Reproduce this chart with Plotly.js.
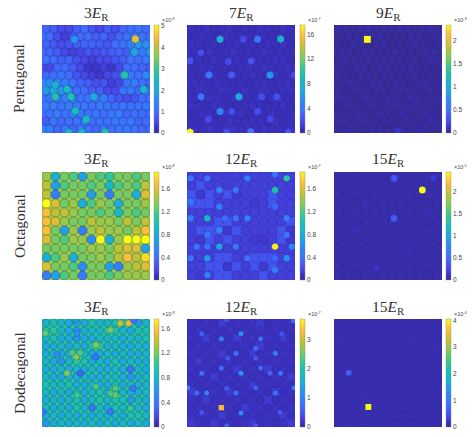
<!DOCTYPE html>
<html><head><meta charset="utf-8">
<script src="https://cdn.plot.ly/plotly-3.0.1.min.js"></script>
<style>html,body{margin:0;padding:0;background:#fff}#c{width:474px;height:437px}</style>
</head><body><div id="c"></div>
<script>
var rowLabels=['Pentagonal','Octagonal','Dodecagonal'];
var titles=['3<i>E</i><sub>R</sub>','7<i>E</i><sub>R</sub>','9<i>E</i><sub>R</sub>','3<i>E</i><sub>R</sub>','12<i>E</i><sub>R</sub>','15<i>E</i><sub>R</sub>','3<i>E</i><sub>R</sub>','12<i>E</i><sub>R</sub>','15<i>E</i><sub>R</sub>'];
var exponents=['-8','-7','-3','-8','-7','-5','-8','-7','-4'];
var cmaxes=[5.05,17.5,2.35,1.9,1.9,2.45,1.75,3.7,4.05];
var ticks=[[0,1,2,3,4,5],[0,4,8,12,16],[0,0.5,1,1.5,2],[0,0.4,0.8,1.2,1.6],[0,0.4,0.8,1.2,1.6],[0,0.5,1,1.5,2],[0,0.4,0.8,1.2,1.6],[0,1,2,3],[0,1,2,3,4]];
var gapValues=[null,null,null,1.4,null,null,1.0,null,null];

var grid1=[[0.9,0.8,0.5,0.5,0.8,1.0,0.7,0.5,0.8,0.6,0.9,1.0,1.1,1.0],[1.0,0.6,0.4,0.7,0.9,1.0,0.8,0.9,0.6,0.9,1.1,1.2,1.1,1.0],[0.9,0.7,0.6,0.7,0.8,0.9,0.9,0.8,0.7,1.0,1.1,1.3,1.7,1.6],[0.9,0.8,0.5,0.4,0.5,0.7,0.6,0.7,0.8,0.9,0.8,1.9,1.2,1.7],[1.1,1.0,0.8,0.9,0.6,0.5,0.4,0.5,0.5,0.7,0.8,1.1,1.0,1.2],[0.5,0.9,1.0,0.8,0.5,0.3,0.3,0.4,0.3,0.5,1.0,1.0,0.9,0.8],[0.9,1.0,1.1,1.0,0.7,0.5,0.4,0.3,0.5,0.6,1.0,1.2,1.0,1.5],[1.6,1.4,1.3,1.1,0.9,0.8,0.6,0.7,0.4,0.5,1.1,1.3,1.0,0.9],[1.8,2.1,1.7,1.2,1.0,1.0,0.8,0.8,0.5,0.5,1.1,1.2,0.9,1.2],[1.1,1.2,1.3,1.5,1.0,1.1,1.1,1.3,0.9,0.7,0.6,0.7,1.0,1.1],[1.3,1.3,1.1,1.3,1.2,1.2,1.0,1.2,1.1,1.0,1.1,1.0,1.1,1.2],[1.0,1.3,1.1,1.3,1.2,1.1,1.2,1.0,1.2,1.3,0.9,1.1,1.0,1.0],[0.8,1.2,0.9,1.0,1.1,1.2,1.0,1.0,1.1,1.2,1.1,1.2,0.9,1.0],[1.3,0.9,1.2,0.9,1.2,1.0,0.9,1.2,1.0,1.1,1.2,1.0,0.9,1.0]];
var hotX1=[86.4,76.5,29.9,12.3,23.1,12.3,26.9,47.8,94.1,30.9,41,58.6,37,24.7];
var hotY1=[87,53.7,86.7,44.4,40.4,33.6,33.6,33.6,40.4,20.4,12.7,0.6,0.6,0.6];
var hotV1=[4.3,2.7,1.7,2.2,2.4,2.7,2.6,2.0,2.4,2.5,2.4,2.7,2.2,2.2];

var grid2=[[0.7,0.6,0.8,0.6,0.7,0.8,0.6,0.7,0.6,0.8,0.7,0.6,0.8,0.7],[0.6,0.8,0.7,0.6,0.8,0.6,0.7,0.6,0.8,0.7,0.6,0.7,0.6,0.8],[0.8,0.7,0.6,0.7,0.6,0.7,0.8,0.6,0.7,0.6,0.8,0.7,0.8,0.6],[0.7,0.6,0.8,0.6,0.7,0.8,0.6,0.7,0.6,0.8,0.6,0.7,0.6,0.7],[0.8,0.7,0.6,0.8,0.6,0.7,0.8,0.6,0.7,0.7,0.6,0.8,0.7,0.6],[0.6,0.8,0.7,0.6,0.7,0.6,0.7,0.8,0.6,0.8,0.7,0.6,0.8,0.7],[0.7,0.6,0.8,0.7,0.6,0.8,0.6,0.7,0.8,0.6,0.7,0.8,0.6,0.8],[0.8,0.7,0.6,0.8,0.7,0.6,0.7,0.6,0.7,0.8,0.6,0.7,0.8,0.6],[0.6,0.8,0.7,0.6,0.8,0.7,0.6,0.8,0.6,0.7,0.8,0.6,0.7,0.8],[0.7,0.6,0.8,0.7,0.6,0.7,0.8,0.6,0.7,0.6,0.7,0.8,0.6,0.7],[0.8,0.7,0.6,0.8,0.7,0.6,0.6,0.7,0.8,0.7,0.6,0.7,0.8,0.6],[0.6,0.8,0.7,0.6,0.8,0.7,0.8,0.6,0.7,0.6,0.8,0.6,0.7,0.8],[0.7,0.6,0.8,0.7,0.6,0.8,0.6,0.7,0.8,0.7,0.6,0.8,0.6,0.7],[0.8,0.7,0.9,0.7,0.8,0.9,0.7,0.8,0.7,0.9,0.7,0.8,0.7,0.9]];
var hotX2=[30.6,86.7,65.4,76.9,20.4,13,48.1,30.6,59,2.8,41.4,69.1,83,65.4,41.4,2.8,12.7,59.3,38.3,52.2,19.8,76.9,93.8,36.7,99.4];
var hotY2=[86.7,87,86.7,53.7,53.7,33.6,33.6,19.8,1.2,0.6,53.7,33.6,33.6,19.8,19.8,66.7,74.4,66.7,66,86.7,12.7,12.7,0.6,0.6,53.7];
var hotV2=[7.5,7.8,4.0,6.0,4.0,3.8,7.0,5.0,3.5,17.5,2.5,2.0,2.0,2.0,2.0,2.2,2.0,2.2,1.8,1.8,1.8,1.8,2.2,2.0,1.8];

var grid3=[[0.05,0.04,0.03,0.04,0.05,0.03,0.04,0.03,0.05,0.04,0.03,0.04,0.05,0.03],[0.03,0.05,0.04,0.03,0.04,0.05,0.03,0.04,0.03,0.05,0.04,0.03,0.04,0.05],[0.04,0.03,0.05,0.04,0.03,0.04,0.05,0.03,0.04,0.03,0.05,0.04,0.03,0.04],[0.05,0.04,0.03,0.05,0.04,0.03,0.04,0.05,0.03,0.04,0.03,0.05,0.04,0.03],[0.03,0.05,0.04,0.03,0.05,0.04,0.03,0.04,0.05,0.03,0.04,0.03,0.05,0.04],[0.04,0.03,0.05,0.04,0.03,0.05,0.04,0.03,0.04,0.05,0.03,0.04,0.03,0.05],[0.05,0.04,0.03,0.05,0.04,0.03,0.05,0.04,0.03,0.04,0.05,0.03,0.04,0.03],[0.03,0.05,0.04,0.03,0.05,0.04,0.03,0.05,0.04,0.03,0.04,0.05,0.03,0.04],[0.04,0.03,0.05,0.04,0.03,0.05,0.04,0.03,0.05,0.04,0.03,0.04,0.05,0.03],[0.05,0.04,0.03,0.05,0.04,0.03,0.05,0.04,0.03,0.05,0.04,0.03,0.04,0.05],[0.03,0.05,0.04,0.03,0.05,0.04,0.03,0.05,0.04,0.03,0.05,0.04,0.03,0.04],[0.04,0.03,0.05,0.04,0.03,0.05,0.04,0.03,0.05,0.04,0.03,0.05,0.04,0.03],[0.05,0.04,0.03,0.05,0.04,0.03,0.05,0.04,0.03,0.05,0.04,0.03,0.05,0.04],[0.03,0.05,0.04,0.03,0.05,0.04,0.03,0.05,0.04,0.03,0.05,0.04,0.03,0.05]];
var hotX3=[30.9,59];
var hotY3=[86.7,1.9];
var hotV3=[2.35,0.12];

var grid4=[[1.4,0.8,1.3,1.2,0.7,1.3,1.2,1.1,1.3,1.3,1.2,1.3],[1.5,0.7,1.2,1.3,1.3,1.2,1.3,0.9,1.2,1.3,1.2,1.5],[1.5,0.5,1.3,1.3,1.3,0.7,1.3,0.5,1.3,1.3,0.8,1.6],[1.9,1.6,1.3,1.4,0.8,1.2,1.4,1.3,0.8,1.3,1.3,1.4],[1.7,1.5,1.5,1.4,1.3,1.3,1.2,1.3,0.9,1.3,1.2,1.3],[1.7,1.6,1.4,1.3,1.3,1.5,1.4,1.4,1.3,1.5,1.3,1.5],[1.7,1.3,0.7,1.4,0.5,1.4,1.5,1.4,1.4,1.3,1.5,1.7],[1.6,1.3,1.2,1.4,1.4,0.6,1.9,0.8,1.4,1.9,1.9,1.9],[1.3,1.3,1.3,1.3,1.3,1.4,1.4,1.3,1.5,1.6,1.6,0.7],[0.8,1.2,1.4,0.8,1.3,1.3,1.4,1.3,1.5,1.7,1.5,1.8],[1.6,1.3,1.3,1.2,0.6,1.3,1.3,0.7,0.5,1.4,1.5,1.6],[0.5,0.7,1.2,1.3,0.5,1.3,1.3,1.2,1.3,1.4,1.4,1.4]];
var hotX4=[];var hotY4=[];var hotV4=[];

var grid5=[[0.15,0.15,0.15,0.15,0.15,0.15,0.15,0.15,0.15,0.15,0.15,0.15],[0.15,0.25,0.15,0.15,0.15,0.15,0.15,0.15,0.15,0.15,0.15,0.15],[0.25,0.12,0.25,0.15,0.25,0.12,0.15,0.15,0.15,0.25,0.15,0.15],[0.25,0.25,0.25,0.15,0.15,0.15,0.15,0.12,0.15,0.25,0.15,0.15],[0.15,0.15,0.15,0.15,0.15,0.15,0.15,0.15,0.15,0.15,0.15,0.15],[0.15,0.15,0.15,0.25,0.25,0.15,0.15,0.15,0.15,0.15,0.15,0.25],[0.15,0.25,0.25,0.25,0.12,0.25,0.15,0.15,0.15,0.15,0.25,0.12],[0.15,0.12,0.25,0.15,0.25,0.15,0.15,0.12,0.12,0.15,0.25,0.12],[0.15,0.15,0.15,0.15,0.15,0.15,0.15,0.15,0.15,0.15,0.15,0.15],[0.15,0.15,0.15,0.25,0.25,0.15,0.15,0.25,0.25,0.25,0.15,0.15],[0.15,0.15,0.25,0.25,0.12,0.25,0.15,0.25,0.12,0.25,0.15,0.15],[0.15,0.12,0.15,0.25,0.25,0.15,0.15,0.15,0.25,0.15,0.15,0.15]];
var hotX5=[92.3,81.5,18.8,29.9,81.5,29.9,3.4,18.8,55.9,81.5,45.1,3.4,29.9,55.9,92.3,18.8,92.3,3.4,55.9,81.5,18.8,81.5,29.9,45.1,18.8,18.8,9,96.9,92.3,3.4,81.5,45.1,35.2];
var hotY5=[94.1,83.3,57.1,30.9,30.9,83.3,94.1,94.1,94.1,97.8,83.3,57.1,67.9,57.1,57.1,20.1,20.1,20.1,20.1,9.3,4.6,67.9,46.3,30.9,41.7,30.9,30.9,30.9,41.7,72.5,20.1,57.1,57.1];
var hotV5=[1.05,1.0,0.9,0.75,1.85,0.55,0.4,0.4,0.5,0.4,0.4,0.5,0.5,0.5,0.5,0.65,0.65,0.4,0.4,0.5,0.5,0.35,0.55,0.45,0.45,0.4,0.4,0.55,0.4,0.45,0.35,0.4,0.35];

var grid6=[[0.07,0.06,0.07,0.06,0.07,0.06,0.07,0.06,0.07,0.06,0.07,0.06],[0.06,0.07,0.06,0.07,0.06,0.07,0.06,0.07,0.06,0.07,0.06,0.07],[0.07,0.06,0.07,0.06,0.07,0.06,0.07,0.06,0.07,0.06,0.07,0.06],[0.06,0.07,0.06,0.08,0.06,0.07,0.06,0.07,0.06,0.07,0.06,0.07],[0.07,0.06,0.07,0.06,0.07,0.06,0.07,0.06,0.07,0.06,0.08,0.06],[0.06,0.07,0.06,0.07,0.06,0.07,0.06,0.07,0.06,0.07,0.06,0.07],[0.07,0.06,0.08,0.06,0.07,0.06,0.07,0.06,0.07,0.06,0.07,0.06],[0.06,0.07,0.06,0.07,0.06,0.07,0.06,0.07,0.06,0.07,0.06,0.07],[0.07,0.06,0.07,0.06,0.07,0.06,0.07,0.06,0.08,0.06,0.07,0.06],[0.06,0.07,0.06,0.07,0.06,0.07,0.06,0.07,0.06,0.07,0.06,0.07],[0.07,0.06,0.07,0.06,0.07,0.06,0.07,0.06,0.07,0.06,0.07,0.06],[0.06,0.07,0.06,0.07,0.06,0.07,0.06,0.07,0.06,0.07,0.06,0.07]];
var hotX6=[81.8,55.6,55.6,92,39.5];
var hotY6=[83.3,94.1,57.1,94.1,10.8];
var hotV6=[2.45,0.32,0.35,0.15,0.12];

var grid7=[[0.8,0.9,0.8,0.7,0.8,0.7,0.9,0.8,0.8,0.9,0.9,1.0,0.6,0.8],[0.9,1.0,0.8,0.7,0.6,0.7,0.8,0.8,1.0,0.9,0.8,0.7,0.9,0.9],[0.8,0.9,0.7,0.7,0.6,0.7,0.7,0.8,0.8,0.8,0.7,0.8,0.8,0.9],[0.7,0.7,0.8,0.7,0.8,0.7,0.9,1.0,0.7,0.8,0.7,0.7,0.8,0.7],[0.7,0.8,0.7,0.7,0.9,0.8,0.7,0.7,0.8,0.7,0.8,0.7,0.7,0.8],[0.8,0.7,0.6,0.8,1.0,0.9,0.7,0.8,0.7,0.9,0.7,0.8,0.7,0.7],[0.7,0.7,0.8,0.7,0.8,0.7,0.8,0.7,0.7,0.8,0.7,0.7,0.8,0.7],[0.8,0.7,0.7,0.8,0.7,0.8,0.7,0.7,0.8,0.8,0.7,0.6,0.7,0.8],[0.9,0.8,0.8,0.9,0.7,0.7,0.8,0.7,0.7,0.9,0.7,0.8,0.7,0.8],[0.8,0.7,0.8,0.7,0.8,0.7,0.8,0.9,0.7,0.8,0.8,0.7,0.7,0.8],[0.7,0.8,0.7,0.8,0.9,0.7,0.8,0.9,0.8,0.9,0.9,0.6,0.8,0.7],[0.8,0.7,0.8,0.7,0.9,0.8,0.7,0.8,0.7,0.9,0.8,0.7,0.8,0.7],[0.7,0.8,0.7,0.8,0.7,0.8,0.7,0.8,0.7,0.8,0.7,0.9,0.9,0.8],[0.6,0.7,0.8,0.7,0.8,0.7,0.8,0.7,0.8,0.7,0.8,0.7,0.8,0.7]];
var hotX7=[31.8,67.9,50,63.3,3.1,23.1,50,72.5,80.2,32.4,81.8,67.9,63.3,27.8,35.5,32.4,49.4,35.5,81.8,84.3,46.3,63.3,13.9,0.9,84.9,30.9];
var hotY7=[65.1,29.6,37.3,89.8,86.7,49.7,75.9,96,96,29.6,17.3,35.8,31.2,68.8,68.8,86.7,65.1,49.7,53.4,35.8,17.9,14.2,67.3,14.2,99,99];
var hotV7=[1.25,1.15,1.1,1.2,1.15,1.2,1.2,1.4,1.5,1.05,1.05,1.1,1.1,1.1,1.1,0.55,0.35,0.3,0.4,0.4,0.4,0.4,0.55,0.4,0.35,0.6];

var grid8=[[0.18,0.15,0.18,0.15,0.25,0.15,0.18,0.15,0.18,0.25,0.15,0.18,0.15,0.18],[0.15,0.18,0.15,0.18,0.15,0.18,0.15,0.18,0.15,0.18,0.15,0.18,0.15,0.18],[0.18,0.15,0.25,0.15,0.18,0.15,0.25,0.15,0.18,0.15,0.18,0.15,0.25,0.15],[0.15,0.18,0.15,0.18,0.15,0.18,0.15,0.18,0.15,0.25,0.15,0.18,0.15,0.18],[0.18,0.15,0.18,0.15,0.25,0.15,0.18,0.15,0.25,0.15,0.18,0.15,0.18,0.15],[0.15,0.25,0.15,0.18,0.15,0.18,0.15,0.18,0.15,0.18,0.15,0.18,0.15,0.18],[0.18,0.15,0.18,0.15,0.18,0.15,0.25,0.15,0.18,0.15,0.25,0.15,0.18,0.15],[0.15,0.18,0.15,0.25,0.15,0.18,0.15,0.18,0.15,0.18,0.15,0.18,0.15,0.25],[0.18,0.15,0.18,0.15,0.18,0.15,0.18,0.15,0.25,0.15,0.18,0.15,0.18,0.15],[0.25,0.18,0.15,0.18,0.15,0.25,0.15,0.18,0.15,0.18,0.15,0.25,0.15,0.18],[0.18,0.15,0.25,0.15,0.18,0.15,0.18,0.15,0.18,0.15,0.25,0.15,0.18,0.15],[0.15,0.18,0.15,0.18,0.15,0.18,0.15,0.25,0.15,0.18,0.15,0.18,0.15,0.18],[0.18,0.15,0.18,0.15,0.25,0.15,0.18,0.15,0.18,0.15,0.18,0.15,0.25,0.15],[0.25,0.18,0.15,0.25,0.15,0.18,0.15,0.18,0.25,0.15,0.18,0.15,0.18,0.25]];
var hotX8=[31.8,50,31.8,50,50,18.2,68.2,81.8,45.4,63.6,13.6,31.8,68.2,86.7,76.9,45.4,81.8,9,0.9,99.1,13.6,87.7,36.7,63.6,98.5,36.7,63.6,37.7,36.7,63.6,13.6,86.1];
var hotY8=[17.9,86.4,81.5,49.7,13,31.5,81.5,68.2,68.2,72.8,49.7,54.6,54.6,49.7,49.7,31.5,31.5,31.5,36.4,36.4,86.4,86.4,1.2,1.2,98.5,99,63.6,63.6,35.8,36.4,13.3,13.3];
var hotV8=[3.3,1.2,0.95,1.25,1.1,1.0,0.8,0.9,0.7,0.7,0.8,0.7,0.7,0.8,0.6,0.75,0.8,0.7,0.9,0.9,0.6,0.5,0.6,0.5,0.7,0.45,0.5,0.5,0.5,0.6,0.5,0.5];

var grid9=[[0.13,0.12,0.13,0.12,0.13,0.12,0.13,0.12,0.13,0.12,0.13,0.12,0.13,0.12],[0.12,0.13,0.12,0.13,0.12,0.13,0.12,0.13,0.12,0.13,0.12,0.13,0.12,0.13],[0.13,0.12,0.13,0.12,0.13,0.12,0.13,0.12,0.13,0.12,0.13,0.12,0.13,0.12],[0.12,0.13,0.12,0.13,0.12,0.13,0.12,0.13,0.12,0.13,0.12,0.13,0.12,0.13],[0.13,0.12,0.13,0.12,0.13,0.12,0.13,0.12,0.13,0.12,0.13,0.12,0.13,0.12],[0.12,0.13,0.12,0.13,0.12,0.13,0.12,0.13,0.12,0.13,0.12,0.13,0.12,0.13],[0.13,0.12,0.13,0.12,0.13,0.12,0.13,0.12,0.13,0.12,0.13,0.12,0.13,0.12],[0.12,0.13,0.12,0.13,0.12,0.13,0.12,0.13,0.12,0.13,0.12,0.13,0.12,0.13],[0.13,0.12,0.13,0.12,0.13,0.12,0.13,0.12,0.13,0.12,0.13,0.12,0.13,0.12],[0.12,0.13,0.12,0.13,0.12,0.13,0.12,0.13,0.12,0.13,0.12,0.13,0.12,0.13],[0.13,0.12,0.13,0.12,0.13,0.12,0.13,0.12,0.13,0.12,0.13,0.12,0.13,0.12],[0.12,0.13,0.12,0.13,0.12,0.13,0.12,0.13,0.12,0.13,0.12,0.13,0.12,0.13],[0.13,0.12,0.13,0.12,0.13,0.12,0.13,0.12,0.13,0.12,0.13,0.12,0.13,0.12],[0.12,0.13,0.12,0.13,0.12,0.13,0.12,0.13,0.12,0.13,0.12,0.13,0.12,0.13]];
var hotX9=[31.8,13.6];
var hotY9=[18.5,50.3];
var hotV9=[4.05,0.65];

var grids=[grid1,grid2,grid3,grid4,grid5,grid6,grid7,grid8,grid9];
var hotXs=[hotX1,hotX2,hotX3,hotX4,hotX5,hotX6,hotX7,hotX8,hotX9];
var hotYs=[hotY1,hotY2,hotY3,hotY4,hotY5,hotY6,hotY7,hotY8,hotY9];
var hotVs=[hotV1,hotV2,hotV3,hotV4,hotV5,hotV6,hotV7,hotV8,hotV9];

var parula=[[0,'rgb(53,42,135)'],[0.04,'rgb(58,48,190)'],[0.1,'rgb(71,71,235)'],[0.2,'rgb(62,111,255)'],[0.3,'rgb(46,135,247)'],[0.4,'rgb(28,170,223)'],[0.5,'rgb(23,190,185)'],[0.6,'rgb(51,200,148)'],[0.7,'rgb(129,204,89)'],[0.8,'rgb(195,194,51)'],[0.9,'rgb(253,190,61)'],[1,'rgb(249,251,21)']];
var W=474,H=437;
var colLeft=[42,187,334], cbLeft=[154,300,446], expLeft=[160,306,452];
var rowTop=[25,172,319], side=108;
var tileSym=['hexagon','octagon','circle'], tileSize=[9,9.5,7.2];
var hotFirstSym=['hexagon','hexagon','square','octagon','octagon','circle','circle','square','square'];
var hotRestSym=['hexagon','hexagon','circle','octagon','octagon','circle','circle','octagon','circle'];
var hotSize=[8.5,8,7,8,7,7,6.5,5.5,6];
var lineAlpha=[0.4,0.22,0.18,0.45,0.25,0.18,0.45,0.22,0.18];

var traces=[],annotations=[],layout={width:W,height:H,margin:{l:0,r:0,t:0,b:0},paper_bgcolor:'#fff',plot_bgcolor:'#fff',showlegend:false};
grids.forEach(function(g,i){
  var r=Math.floor(i/3),c=i%3,n=i===0?'':String(i+1),N=g.length,ca='coloraxis'+n;
  var xa='x'+n,ya='y'+n,cx=[],cy=[],px=[],py=[],pv=[];
  for(var k=0;k<N;k++){cx.push((k+0.5)*100/N);cy.push(100-(k+0.5)*100/N);}
  g.forEach(function(row,ri){row.forEach(function(v,ci){
    px.push((ci+0.5+(r===0&&ri%2?0.5:0))*100/N);py.push(cy[ri]);pv.push(v);});});
  var under=gapValues[i]===null?{x:cx,y:cy,z:g}:{x:[0,100],y:[0,100],z:[[gapValues[i],gapValues[i]],[gapValues[i],gapValues[i]]]};
  traces.push({type:'heatmap',x:under.x,y:under.y,z:under.z,coloraxis:ca,xaxis:xa,yaxis:ya,hoverinfo:'skip',zsmooth:false});
  var line='rgba(35,35,70,'+lineAlpha[i]+')';
  traces.push({type:'scatter',mode:'markers',x:px,y:py,xaxis:xa,yaxis:ya,hoverinfo:'skip',
    marker:{symbol:tileSym[r],size:tileSize[r],color:pv,coloraxis:ca,line:{color:line,width:0.6}}});
  if(hotVs[i].length)traces.push({type:'scatter',mode:'markers',x:hotXs[i],y:hotYs[i],xaxis:xa,yaxis:ya,hoverinfo:'skip',
    marker:{symbol:hotVs[i].map(function(v,h){return h===0?hotFirstSym[i]:hotRestSym[i];}),size:hotSize[i],color:hotVs[i],coloraxis:ca,line:{color:line,width:0.5}}});
  var top=rowTop[r],left=colLeft[c];
  layout['xaxis'+n]={domain:[left/W,(left+side)/W],range:[0,100],visible:false,fixedrange:true,anchor:'y'+n};
  layout['yaxis'+n]={domain:[1-(top+side)/H,1-top/H],range:[0,100],visible:false,fixedrange:true,anchor:'x'+n};
  layout[ca]={cmin:0,cmax:cmaxes[i],colorscale:parula,colorbar:{x:cbLeft[c]/W,xanchor:'left',xpad:0,y:1-top/H,yanchor:'top',ypad:0,
    len:side/H,lenmode:'fraction',thickness:5,thicknessmode:'pixels',outlinewidth:0.4,outlinecolor:'#888',borderwidth:0,
    tickmode:'array',tickvals:ticks[i],ticks:'',ticklen:0,tickfont:{family:'Liberation Sans',size:6.5,color:'#444'}}};
  annotations.push({xref:'paper',yref:'paper',x:(left+side/2)/W,y:1-(top-12)/H,xanchor:'center',yanchor:'middle',showarrow:false,
    text:titles[i],font:{family:'Liberation Serif',size:15.5,color:'#333'}});
  annotations.push({xref:'paper',yref:'paper',x:expLeft[c]/W,y:1-(top-5)/H,xanchor:'left',yanchor:'middle',showarrow:false,
    text:'\u00d710<sup>'+exponents[i]+'</sup>',font:{family:'Liberation Sans',size:5.5,color:'#444'}});
});
rowLabels.forEach(function(t,r){
  annotations.push({xref:'paper',yref:'paper',x:19/W,y:1-(rowTop[r]+side/2)/H,xanchor:'center',yanchor:'middle',showarrow:false,textangle:-90,
    text:t,font:{family:'Liberation Serif',size:15.5,color:'#333'}});
});
layout.annotations=annotations;
Plotly.newPlot('c',traces,layout,{staticPlot:true,displayModeBar:false});
</script></body></html>
